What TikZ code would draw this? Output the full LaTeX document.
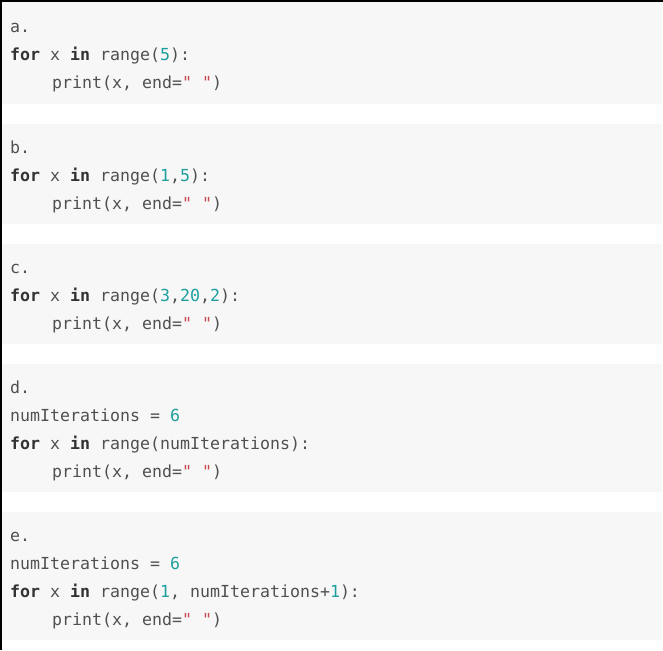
\documentclass[tikz,border=0pt]{standalone}
\usepackage{fontspec}
\setmonofont{DejaVu Sans Mono}
\definecolor{bgc}{HTML}{F7F7F7}
\definecolor{txt}{HTML}{505050}
\definecolor{kw}{HTML}{333333}
\definecolor{num}{HTML}{1E9E9E}
\definecolor{str}{HTML}{C8464B}
\newcommand{\K}[1]{\textcolor{kw}{\bfseries #1}}
\newcommand{\N}[1]{\textcolor{num}{#1}}
\newcommand{\Sq}{\textcolor{str}{"~"}}
\begin{document}
\begin{tikzpicture}[x=1pt,y=-1pt,
  code/.style={anchor=base west,inner sep=0,font=\ttfamily\fontsize{16.6}{16.6}\selectfont,text=txt},
  blk/.style={fill=bgc,draw=none}]
\useasboundingbox (0,0) rectangle (663,650);
\fill[white] (0,0) rectangle (663,650);
\fill[black] (0,0) rectangle (663,2);
\fill[black] (0,0) rectangle (2,650);
\fill[blk] (2,2) rectangle (662,104);
\fill[blk] (2,124) rectangle (662,224);
\fill[blk] (2,244) rectangle (662,344);
\fill[blk] (2,364) rectangle (662,492);
\fill[blk] (2,512) rectangle (662,640);
% a
\node[code] (a0) at (10,33) {a.};
\node[code] (a1) at (10,61) {\K{for} x \K{in} range(\N{5}):};
\node[code] (a2) at (52,89) {print(x, end=\Sq)};
% b
\node[code] (b0) at (10,153) {b.};
\node[code] (b1) at (10,181) {\K{for} x \K{in} range(\N{1},\N{5}):};
\node[code] (b2) at (52,209) {print(x, end=\Sq)};
% c
\node[code] (c0) at (10,273) {c.};
\node[code] (c1) at (10,301) {\K{for} x \K{in} range(\N{3},\N{20},\N{2}):};
\node[code] (c2) at (52,329) {print(x, end=\Sq)};
% d
\node[code] (d0) at (10,393) {d.};
\node[code] (d1) at (10,421) {numIterations = \N{6}};
\node[code] (d2) at (10,449) {\K{for} x \K{in} range(numIterations):};
\node[code] (d3) at (52,477) {print(x, end=\Sq)};
% e
\node[code] (e0) at (10,541) {e.};
\node[code] (e1) at (10,569) {numIterations = \N{6}};
\node[code] (e2) at (10,597) {\K{for} x \K{in} range(\N{1}, numIterations+\N{1}):};
\node[code] (e3) at (52,625) {print(x, end=\Sq)};
\end{tikzpicture}
\end{document}
